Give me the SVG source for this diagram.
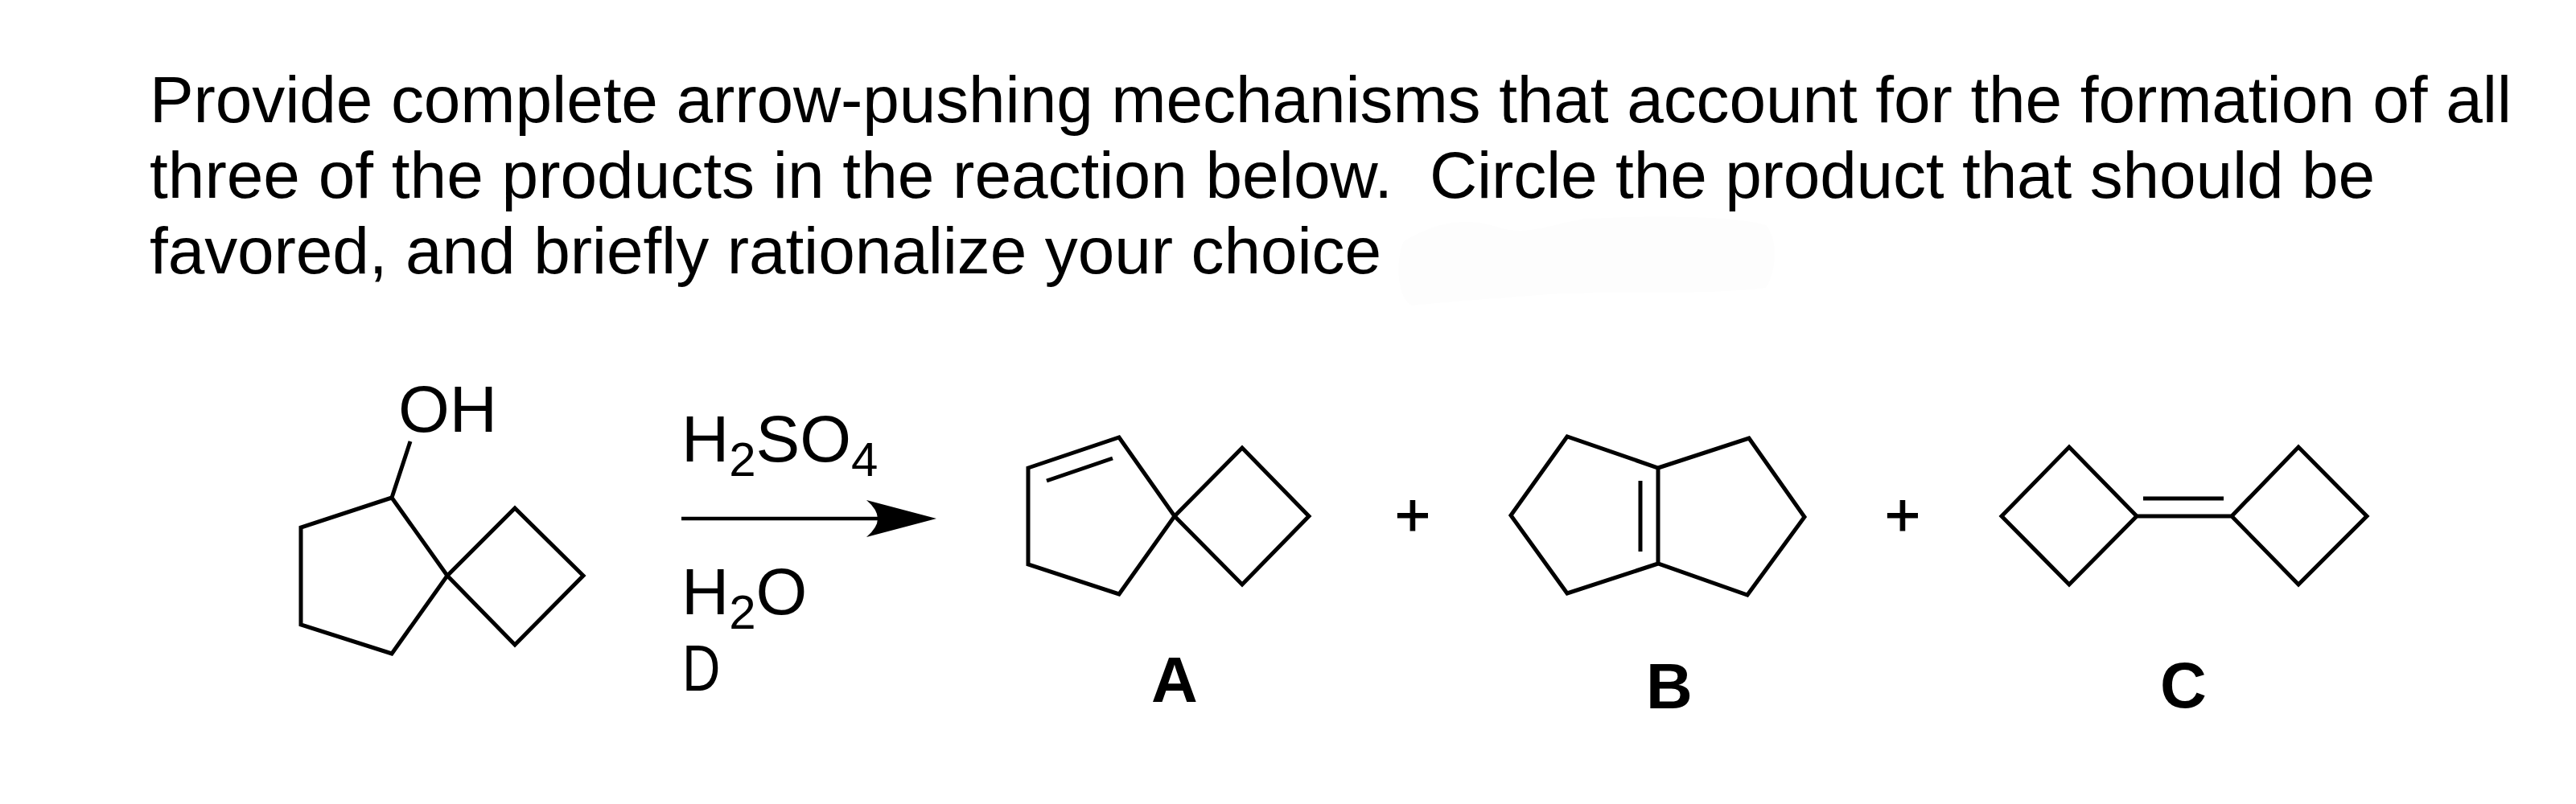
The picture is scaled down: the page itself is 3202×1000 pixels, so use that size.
<svg xmlns="http://www.w3.org/2000/svg" width="3202" height="1000" viewBox="0 0 3202 1000">
<style>
.t{font-family:"Liberation Sans",Arial,sans-serif;fill:#000}
.q{font-size:82px;white-space:pre}
.r{font-size:82px}
.s{font-size:60px}
.b{font-size:80px;font-weight:bold;text-anchor:middle}
.p{font-size:76px;text-anchor:middle;stroke:#000;stroke-width:1.2}
.m{fill:none;stroke:#000;stroke-width:5;stroke-linejoin:miter;stroke-linecap:butt}
</style>
<rect width="3202" height="1000" fill="#fff"/>
<path id="smudge" d="M1745 300C1790 272 1830 272 1860 282C1900 295 1930 278 1970 272C2060 268 2150 268 2195 280C2212 300 2207 340 2195 358C2120 368 2000 360 1900 368C1850 372 1790 376 1755 380C1735 370 1735 320 1745 300Z" fill="#fdfdfd"/>
<g id="question">
<text class="t q" x="186" y="152" textLength="2936">Provide complete arrow-pushing mechanisms that account for the formation of all</text>
<text class="t q" x="186" y="246" textLength="1545">three of the products in the reaction below.</text>
<text class="t q" x="1777" y="246" textLength="1175">Circle the product that should be</text>
<text class="t q" x="186" y="340" textLength="1531">favored, and briefly rationalize your choice</text>
</g>
<g id="reactant">
<path class="m" d="M487 619L374 656V777L487 813L556 716ZM556 716L640 632L725 716L640 802ZM487 619L510 549"/>
<text class="t r" x="495" y="537">OH</text>
</g>
<g id="conditions">
<text class="t r" x="847" y="574">H<tspan class="s" dy="18">2</tspan><tspan dy="-18">SO</tspan><tspan class="s" dy="18">4</tspan></text>
<text class="t r" x="847" y="764">H<tspan class="s" dy="18">2</tspan><tspan dy="-18">O</tspan></text>
<text class="t r" transform="translate(848 859) scale(.8 1)">D</text>
</g>
<g id="connectors">
<path d="M847 645H1095" fill="none" stroke="#000" stroke-width="4.5"/>
<path d="M1164 645L1077 622Q1091 634 1091 645Q1091 656 1077 668Z" fill="#000"/>
</g>
<g id="product-a">
<path class="m" d="M1278 582L1391 544L1460 642L1391 739L1278 702ZM1460 642L1544 557L1627 642L1544 727ZM1301 598L1383 570"/>
<text class="t b" x="1460" y="873">A</text>
</g>
<g id="plus-1"><text class="t p" x="1756" y="667">+</text></g>
<g id="product-b">
<path class="m" d="M1878 641L1948 543L2061 582L2174 545L2243 643L2172 740L2061 701L1948 738ZM2061 582V701M2039 598V686"/>
<text class="t b" x="2075" y="881">B</text>
</g>
<g id="plus-2"><text class="t p" x="2365" y="667">+</text></g>
<g id="product-c">
<path class="m" d="M2488 642L2572 556L2656 642L2572 727ZM2774 642L2857 556L2942 642L2857 727ZM2656 642H2774M2664 620H2764"/>
<text class="t b" x="2714" y="880">C</text>
</g>
</svg>
